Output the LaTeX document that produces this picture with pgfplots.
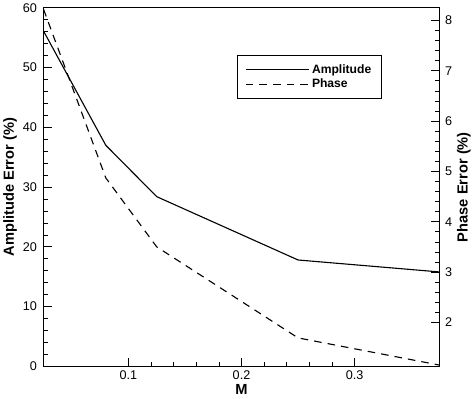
\documentclass[border=0pt]{standalone}
\usepackage{pgfplots}
\pgfplotsset{compat=1.18}
\usepackage{fontspec}
\setmainfont{Liberation Sans}
\begin{document}
\begin{tikzpicture}
\pgfplotsset{
  every axis/.append style={
    scale only axis, width=392pt, height=355pt,
    xmin=0.025, xmax=0.375,
    tick align=inside,
    major tick length=8pt, minor tick length=4pt,
    every tick/.style={black, line width=0.9pt},
    minor tick style={black, line width=0.6pt},
    axis line style={line width=1pt},
    tick label style={font=\fontsize{12.5}{14}\selectfont},
    label style={font=\bfseries\fontsize{14.5}{16}\selectfont},
    /pgf/number format/assume math mode=true,
  }
}
\begin{axis}[
  ymin=0, ymax=60,
  xtick={0.1,0.2,0.3}, minor x tick num=4,
  ytick={0,10,...,60}, minor y tick num=4,
  xtick pos=bottom, ytick pos=left,
  xlabel={M}, ylabel={Amplitude Error (\%)},
  xlabel style={yshift=2pt},
  ylabel style={yshift=-1pt},
  yticklabel style={xshift=-3pt},
  xticklabel style={/pgf/number format/fixed, yshift=-1pt},
  legend style={at={(0.488,0.868)}, anchor=north west, draw=black, line width=0.8pt,
    font=\bfseries\fontsize{12}{14}\selectfont, row sep=0pt,
    inner xsep=8pt, inner ysep=7pt},
  legend cell align=left,
  legend image code/.code={\draw[#1] (0pt,0pt) -- (63pt,0pt);},
]
\addplot[black, line width=1.1pt] coordinates {
  (0.025,56.1) (0.08,37.0) (0.125,28.4) (0.25,17.8) (0.375,15.8)
};
\addlegendentry{Amplitude}
\addlegendimage{black, line width=1.1pt, dash pattern=on 7.5pt off 6pt}
\addlegendentry{Phase}
\end{axis}
\begin{axis}[
  ymin=1.125, ymax=8.25,
  axis x line=none, axis y line*=right,
  ytick={2,3,...,8}, minor y tick num=4,
  yticklabel style={xshift=2pt},
  ylabel={Phase Error (\%)},
  ylabel style={yshift=2pt},
]
\addplot[black, line width=1.1pt, dash pattern=on 7.5pt off 6pt] coordinates {
  (0.025,8.22) (0.08,4.87) (0.125,3.5) (0.25,1.69) (0.375,1.15)
};
\end{axis}
\end{tikzpicture}
\end{document}
